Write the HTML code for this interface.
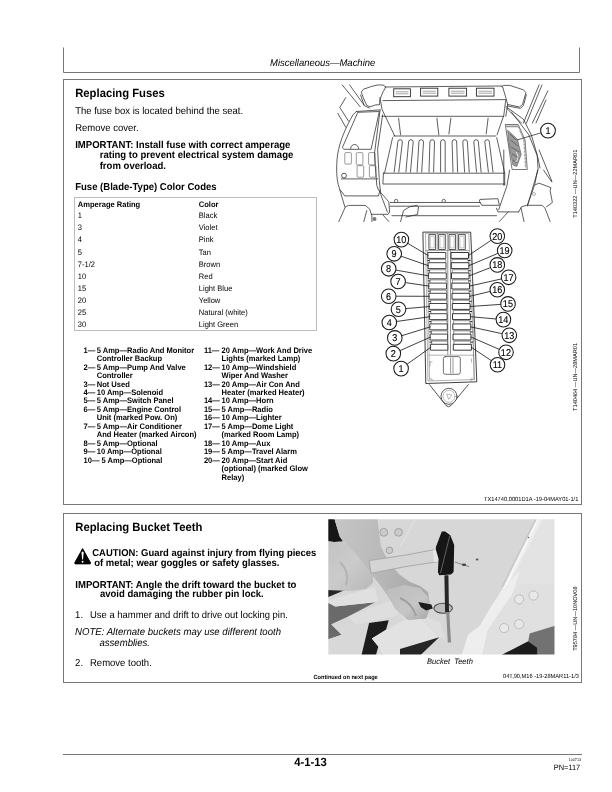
<!DOCTYPE html>
<html><head><meta charset="utf-8"><title>Miscellaneous—Machine 4-1-13</title>
<style>
html,body{margin:0;padding:0;background:#fff;width:612px;height:792px;overflow:hidden}
svg{display:block}
text{font-family:"Liberation Sans",sans-serif;fill:#000;white-space:pre;text-rendering:geometricPrecision}
.b{font-weight:bold}
.i{font-style:italic}
</style></head><body>
<svg width="612" height="792" viewBox="0 0 612 792" style="will-change:transform">
<path d="M63.5 47.5V72.5H579.5V47.5" fill="none" stroke="#777" stroke-width="1"/>
<text x="270" y="65.9" font-size="9.979" class="i" transform="matrix(0.95 0 0 1 13.500 0)">Miscellaneous—Machine</text>
<rect x="63.5" y="79.5" width="518" height="425" fill="none" stroke="#777" stroke-width="1"/>
<rect x="63.5" y="513.5" width="518" height="169" fill="none" stroke="#777" stroke-width="1"/>
<path d="M63 754.5H582" stroke="#777" stroke-width="1"/>
<text x="75.2" y="97" font-size="11.895" class="b" transform="matrix(0.95 0 0 1 3.760 0)">Replacing Fuses</text>
<text x="75.2" y="114.3" font-size="10.000" transform="matrix(0.95 0 0 1 3.760 0)">The fuse box is located behind the seat.</text>
<text x="75.2" y="131" font-size="10.000" transform="matrix(0.95 0 0 1 3.760 0)">Remove cover.</text>
<text x="75.2" y="148.1" font-size="10.053" class="b" transform="matrix(0.95 0 0 1 3.760 0)">IMPORTANT: Install fuse with correct amperage</text>
<text x="99.7" y="158.4" font-size="10.053" class="b" transform="matrix(0.95 0 0 1 4.985 0)">rating to prevent electrical system damage</text>
<text x="99.7" y="168.7" font-size="10.053" class="b" transform="matrix(0.95 0 0 1 4.985 0)">from overload.</text>
<text x="75.2" y="190.3" font-size="10.053" class="b" transform="matrix(0.95 0 0 1 3.760 0)">Fuse (Blade-Type) Color Codes</text>
<rect x="74.5" y="197.5" width="242" height="133" fill="none" stroke="#bcbcbc" stroke-width="1"/>
<text x="77.8" y="206.6" font-size="7.947" class="b" transform="matrix(0.95 0 0 1 3.890 0)">Amperage Rating</text>
<text x="198.8" y="206.6" font-size="7.947" class="b" transform="matrix(0.95 0 0 1 9.940 0)">Color</text>
<text x="77.8" y="218.3" font-size="7.947" transform="matrix(0.95 0 0 1 3.890 0)">1</text>
<text x="198.8" y="218.3" font-size="7.947" transform="matrix(0.95 0 0 1 9.940 0)">Black</text>
<text x="77.8" y="230.39" font-size="7.947" transform="matrix(0.95 0 0 1 3.890 0)">3</text>
<text x="198.8" y="230.39" font-size="7.947" transform="matrix(0.95 0 0 1 9.940 0)">Violet</text>
<text x="77.8" y="242.48" font-size="7.947" transform="matrix(0.95 0 0 1 3.890 0)">4</text>
<text x="198.8" y="242.48" font-size="7.947" transform="matrix(0.95 0 0 1 9.940 0)">Pink</text>
<text x="77.8" y="254.57" font-size="7.947" transform="matrix(0.95 0 0 1 3.890 0)">5</text>
<text x="198.8" y="254.57" font-size="7.947" transform="matrix(0.95 0 0 1 9.940 0)">Tan</text>
<text x="77.8" y="266.66" font-size="7.947" transform="matrix(0.95 0 0 1 3.890 0)">7-1/2</text>
<text x="198.8" y="266.66" font-size="7.947" transform="matrix(0.95 0 0 1 9.940 0)">Brown</text>
<text x="77.8" y="278.75" font-size="7.947" transform="matrix(0.95 0 0 1 3.890 0)">10</text>
<text x="198.8" y="278.75" font-size="7.947" transform="matrix(0.95 0 0 1 9.940 0)">Red</text>
<text x="77.8" y="290.84" font-size="7.947" transform="matrix(0.95 0 0 1 3.890 0)">15</text>
<text x="198.8" y="290.84" font-size="7.947" transform="matrix(0.95 0 0 1 9.940 0)">Light Blue</text>
<text x="77.8" y="302.93" font-size="7.947" transform="matrix(0.95 0 0 1 3.890 0)">20</text>
<text x="198.8" y="302.93" font-size="7.947" transform="matrix(0.95 0 0 1 9.940 0)">Yellow</text>
<text x="77.8" y="315.02" font-size="7.947" transform="matrix(0.95 0 0 1 3.890 0)">25</text>
<text x="198.8" y="315.02" font-size="7.947" transform="matrix(0.95 0 0 1 9.940 0)">Natural (white)</text>
<text x="77.8" y="327.11" font-size="7.947" transform="matrix(0.95 0 0 1 3.890 0)">30</text>
<text x="198.8" y="327.11" font-size="7.947" transform="matrix(0.95 0 0 1 9.940 0)">Light Green</text>
<text x="83.5" y="352.7" font-size="7.947" class="b" transform="matrix(0.95 0 0 1 4.175 0)">1—</text>
<text x="96.7" y="352.7" font-size="7.947" class="b" transform="matrix(0.95 0 0 1 4.835 0)">5 Amp—Radio And Monitor</text>
<text x="96.7" y="361.16" font-size="7.947" class="b" transform="matrix(0.95 0 0 1 4.835 0)">Controller Backup</text>
<text x="83.5" y="369.62" font-size="7.947" class="b" transform="matrix(0.95 0 0 1 4.175 0)">2—</text>
<text x="96.7" y="369.62" font-size="7.947" class="b" transform="matrix(0.95 0 0 1 4.835 0)">5 Amp—Pump And Valve</text>
<text x="96.7" y="378.08" font-size="7.947" class="b" transform="matrix(0.95 0 0 1 4.835 0)">Controller</text>
<text x="83.5" y="386.54" font-size="7.947" class="b" transform="matrix(0.95 0 0 1 4.175 0)">3—</text>
<text x="96.7" y="386.54" font-size="7.947" class="b" transform="matrix(0.95 0 0 1 4.835 0)">Not Used</text>
<text x="83.5" y="395.0" font-size="7.947" class="b" transform="matrix(0.95 0 0 1 4.175 0)">4—</text>
<text x="96.7" y="395.0" font-size="7.947" class="b" transform="matrix(0.95 0 0 1 4.835 0)">10 Amp—Solenoid</text>
<text x="83.5" y="403.46" font-size="7.947" class="b" transform="matrix(0.95 0 0 1 4.175 0)">5—</text>
<text x="96.7" y="403.46" font-size="7.947" class="b" transform="matrix(0.95 0 0 1 4.835 0)">5 Amp—Switch Panel</text>
<text x="83.5" y="411.92" font-size="7.947" class="b" transform="matrix(0.95 0 0 1 4.175 0)">6—</text>
<text x="96.7" y="411.92" font-size="7.947" class="b" transform="matrix(0.95 0 0 1 4.835 0)">5 Amp—Engine Control</text>
<text x="96.7" y="420.38" font-size="7.947" class="b" transform="matrix(0.95 0 0 1 4.835 0)">Unit (marked Pow. On)</text>
<text x="83.5" y="428.84" font-size="7.947" class="b" transform="matrix(0.95 0 0 1 4.175 0)">7—</text>
<text x="96.7" y="428.84" font-size="7.947" class="b" transform="matrix(0.95 0 0 1 4.835 0)">5 Amp—Air Conditioner</text>
<text x="96.7" y="437.3" font-size="7.947" class="b" transform="matrix(0.95 0 0 1 4.835 0)">And Heater (marked Aircon)</text>
<text x="83.5" y="445.76" font-size="7.947" class="b" transform="matrix(0.95 0 0 1 4.175 0)">8—</text>
<text x="96.7" y="445.76" font-size="7.947" class="b" transform="matrix(0.95 0 0 1 4.835 0)">5 Amp—Optional</text>
<text x="83.5" y="454.22" font-size="7.947" class="b" transform="matrix(0.95 0 0 1 4.175 0)">9—</text>
<text x="96.7" y="454.22" font-size="7.947" class="b" transform="matrix(0.95 0 0 1 4.835 0)">10 Amp—Optional</text>
<text x="83.5" y="462.68" font-size="7.947" class="b" transform="matrix(0.95 0 0 1 4.175 0)">10—</text>
<text x="101.5" y="462.68" font-size="7.947" class="b" transform="matrix(0.95 0 0 1 5.075 0)">5 Amp—Optional</text>
<text x="203.9" y="352.7" font-size="7.947" class="b" transform="matrix(0.95 0 0 1 10.195 0)">11—</text>
<text x="221.6" y="352.7" font-size="7.947" class="b" transform="matrix(0.95 0 0 1 11.080 0)">20 Amp—Work And Drive</text>
<text x="221.6" y="361.16" font-size="7.947" class="b" transform="matrix(0.95 0 0 1 11.080 0)">Lights (marked Lamp)</text>
<text x="203.9" y="369.62" font-size="7.947" class="b" transform="matrix(0.95 0 0 1 10.195 0)">12—</text>
<text x="221.6" y="369.62" font-size="7.947" class="b" transform="matrix(0.95 0 0 1 11.080 0)">10 Amp—Windshield</text>
<text x="221.6" y="378.08" font-size="7.947" class="b" transform="matrix(0.95 0 0 1 11.080 0)">Wiper And Washer</text>
<text x="203.9" y="386.54" font-size="7.947" class="b" transform="matrix(0.95 0 0 1 10.195 0)">13—</text>
<text x="221.6" y="386.54" font-size="7.947" class="b" transform="matrix(0.95 0 0 1 11.080 0)">20 Amp—Air Con And</text>
<text x="221.6" y="395.0" font-size="7.947" class="b" transform="matrix(0.95 0 0 1 11.080 0)">Heater (marked Heater)</text>
<text x="203.9" y="403.46" font-size="7.947" class="b" transform="matrix(0.95 0 0 1 10.195 0)">14—</text>
<text x="221.6" y="403.46" font-size="7.947" class="b" transform="matrix(0.95 0 0 1 11.080 0)">10 Amp—Horn</text>
<text x="203.9" y="411.92" font-size="7.947" class="b" transform="matrix(0.95 0 0 1 10.195 0)">15—</text>
<text x="221.6" y="411.92" font-size="7.947" class="b" transform="matrix(0.95 0 0 1 11.080 0)">5 Amp—Radio</text>
<text x="203.9" y="420.38" font-size="7.947" class="b" transform="matrix(0.95 0 0 1 10.195 0)">16—</text>
<text x="221.6" y="420.38" font-size="7.947" class="b" transform="matrix(0.95 0 0 1 11.080 0)">10 Amp—Lighter</text>
<text x="203.9" y="428.84" font-size="7.947" class="b" transform="matrix(0.95 0 0 1 10.195 0)">17—</text>
<text x="221.6" y="428.84" font-size="7.947" class="b" transform="matrix(0.95 0 0 1 11.080 0)">5 Amp—Dome Light</text>
<text x="221.6" y="437.3" font-size="7.947" class="b" transform="matrix(0.95 0 0 1 11.080 0)">(marked Room Lamp)</text>
<text x="203.9" y="445.76" font-size="7.947" class="b" transform="matrix(0.95 0 0 1 10.195 0)">18—</text>
<text x="221.6" y="445.76" font-size="7.947" class="b" transform="matrix(0.95 0 0 1 11.080 0)">10 Amp—Aux</text>
<text x="203.9" y="454.22" font-size="7.947" class="b" transform="matrix(0.95 0 0 1 10.195 0)">19—</text>
<text x="221.6" y="454.22" font-size="7.947" class="b" transform="matrix(0.95 0 0 1 11.080 0)">5 Amp—Travel Alarm</text>
<text x="203.9" y="462.68" font-size="7.947" class="b" transform="matrix(0.95 0 0 1 10.195 0)">20—</text>
<text x="221.6" y="462.68" font-size="7.947" class="b" transform="matrix(0.95 0 0 1 11.080 0)">20 Amp—Start Aid</text>
<text x="221.6" y="471.14" font-size="7.947" class="b" transform="matrix(0.95 0 0 1 11.080 0)">(optional) (marked Glow</text>
<text x="221.6" y="479.6" font-size="7.947" class="b" transform="matrix(0.95 0 0 1 11.080 0)">Relay)</text>
<text x="484" y="500.6" font-size="6.000" transform="matrix(0.95 0 0 1 24.200 0)">TX14740,0001D1A -19-04MAY01-1/1</text>
<text transform="translate(576.5 217.7) rotate(-90)" font-size="5.62">T140322 —UN—22MAR01</text>
<text transform="translate(576.5 410.9) rotate(-90)" font-size="5.62">T140464 —UN—28MAR01</text>
<text x="75.3" y="531.4" font-size="11.895" class="b" transform="matrix(0.95 0 0 1 3.765 0)">Replacing Bucket Teeth</text>
<path d="M82.6 548.6L74.6 563L75.2 563.9H90.1L90.7 563Z" fill="#000" stroke="#000" stroke-width="0.9" stroke-linejoin="round"/>
<path d="M81.5 552.3Q82.6 550.6 83.7 552.3L83.1 559.6H82.1Z" fill="#fff"/><circle cx="82.6" cy="561.7" r="0.95" fill="#fff"/>
<text x="92.3" y="556.4" font-size="9.947" class="b" transform="matrix(0.95 0 0 1 4.615 0)">CAUTION: Guard against injury from flying pieces</text>
<text x="94.2" y="566.2" font-size="10.000" class="b" transform="matrix(0.95 0 0 1 4.710 0)">of metal; wear goggles or safety glasses.</text>
<text x="75.3" y="587.5" font-size="10.053" class="b" transform="matrix(0.95 0 0 1 3.765 0)">IMPORTANT: Angle the drift toward the bucket to</text>
<text x="99.9" y="596.8" font-size="10.053" class="b" transform="matrix(0.95 0 0 1 4.995 0)">avoid damaging the rubber pin lock.</text>
<text x="75.1" y="618.3" font-size="10.000" transform="matrix(0.95 0 0 1 3.755 0)">1.</text>
<text x="90" y="618.3" font-size="9.947" transform="matrix(0.95 0 0 1 4.500 0)">Use a hammer and drift to drive out locking pin.</text>
<text x="75.1" y="634.7" font-size="10.105" class="i" transform="matrix(0.95 0 0 1 3.755 0)">NOTE: Alternate buckets may use different tooth</text>
<text x="99.4" y="645.7" font-size="10.105" class="i" transform="matrix(0.95 0 0 1 4.970 0)">assemblies.</text>
<text x="75.1" y="665.6" font-size="10.000" transform="matrix(0.95 0 0 1 3.755 0)">2.</text>
<text x="90" y="665.6" font-size="10.000" transform="matrix(0.95 0 0 1 4.500 0)">Remove tooth.</text>
<text x="427" y="663.8" font-size="7.947" class="i" transform="matrix(0.95 0 0 1 21.350 0)">Bucket  Teeth</text>
<text x="313.5" y="678.7" font-size="5.958" class="b" transform="matrix(0.95 0 0 1 15.675 0)">Continued on next page</text>
<text x="503" y="678.3" font-size="5.979" transform="matrix(0.95 0 0 1 25.150 0)">04T,90,M16 -19-28MAR11-1/3</text>
<text transform="translate(576.5 650.8) rotate(-90)" font-size="5.6">T95784 —UN—10NOV08</text>
<text x="294.2" y="765.8" font-size="11.895" class="b" transform="matrix(0.95 0 0 1 14.710 0)">4-1-13</text>
<text x="553.8" y="769.8" font-size="7.811" transform="matrix(0.95 0 0 1 27.690 0)">PN=117</text>
<text x="568.8" y="760.7" font-size="3.842" transform="matrix(0.95 0 0 1 28.440 0)">100713</text>
<g>
<path d="M342.2 84.9L360.2 106.8M349.6 84.9L364 105" fill="none" stroke="#2a2a2a" stroke-width="0.75" stroke-linejoin="round" stroke-linecap="round" stroke="#555"/>
<path d="M345.7 97.6L339.8 107.5L348.6 121.2M337.8 113.3L345.7 127.1" fill="none" stroke="#2a2a2a" stroke-width="0.75" stroke-linejoin="round" stroke-linecap="round" stroke="#555"/>
<path d="M539.1 84.9L523.4 123.1M542 84.9L526.4 123.1M547.9 90.8L532.3 123.1" fill="none" stroke="#2a2a2a" stroke-width="0.75" stroke-linejoin="round" stroke-linecap="round" stroke="#555"/>
<path d="M546 100L536 123" fill="none" stroke="#2a2a2a" stroke-width="0.75" stroke-linejoin="round" stroke-linecap="round" stroke-width="1.4" stroke="#999"/>
<path d="M539.1 150L551.9 181.4" fill="none" stroke="#2a2a2a" stroke-width="0.75" stroke-linejoin="round" stroke-linecap="round" stroke="#555"/>
<path d="M361.5 91.8L363.5 89.2L371.3 86.5L377.9 84.9L383.8 85.2L385.7 87.2L383.1 91.8L379.8 99.6L379.5 104.8L375.9 104.8L370 106.8L366.8 105.5L363.5 98.3Z" fill="none" stroke="#2a2a2a" stroke-width="0.75" stroke-linejoin="round" stroke-linecap="round" stroke-width="0.9"/>
<path d="M360.6 95L364.2 105.5L369.4 108.1" fill="none" stroke="#2a2a2a" stroke-width="0.75" stroke-linejoin="round" stroke-linecap="round" stroke="#888"/>
<path d="M501.9 86.4L503.8 85.4L509.7 85.4L523.4 89.8L525.9 92.7L522.5 104.5L519.5 107L507.7 104.5L505.8 97.6L502.8 87.4Z" fill="none" stroke="#2a2a2a" stroke-width="0.75" stroke-linejoin="round" stroke-linecap="round" stroke-width="0.9"/>
<path d="M526.4 94.7L523.4 105.5L520.5 108.4L507.7 106" fill="none" stroke="#2a2a2a" stroke-width="0.75" stroke-linejoin="round" stroke-linecap="round" stroke="#888"/>
<path d="M507.7 104.5L505.8 116.3M506.8 108.4L521.5 123.1" fill="none" stroke="#2a2a2a" stroke-width="0.75" stroke-linejoin="round" stroke-linecap="round" stroke="#444"/>
<path d="M384.9 87L501.9 86" fill="none" stroke="#2a2a2a" stroke-width="0.75" stroke-linejoin="round" stroke-linecap="round"/>
<path d="M382.9 100.6L504.8 99.6" fill="none" stroke="#2a2a2a" stroke-width="0.75" stroke-linejoin="round" stroke-linecap="round" stroke="#777"/>
<path d="M380 97.6L382 109.4L394.7 135.9" fill="none" stroke="#2a2a2a" stroke-width="0.75" stroke-linejoin="round" stroke-linecap="round"/>
<path d="M505.8 99.6L503.8 115.3L497 134.9" fill="none" stroke="#2a2a2a" stroke-width="0.75" stroke-linejoin="round" stroke-linecap="round"/>
<path d="M382 116.3L503.8 116.3" fill="none" stroke="#2a2a2a" stroke-width="0.75" stroke-linejoin="round" stroke-linecap="round"/>
<path d="M398.6 118.2L400.6 134.9M436.9 118.2L438.8 134.9M450.9 118.2L448.9 133.9M488.1 118.2L486.2 133.9" fill="none" stroke="#2a2a2a" stroke-width="0.75" stroke-linejoin="round" stroke-linecap="round" stroke="#555"/>
<rect x="393.7" y="88.8" width="16.7" height="7.9" fill="#fff" stroke="#2a2a2a" stroke-width="0.9"/>
<path d="M395.7 91.8H408.4M395.7 93.8H408.4" stroke="#666" stroke-width="0.6" fill="none"/>
<rect x="420.6" y="88.2" width="17.2" height="7.9" fill="#fff" stroke="#2a2a2a" stroke-width="0.9"/>
<path d="M422.6 91.2H435.8M422.6 93.2H435.8" stroke="#666" stroke-width="0.6" fill="none"/>
<rect x="448.9" y="88.2" width="17.7" height="7.9" fill="#fff" stroke="#2a2a2a" stroke-width="0.9"/>
<path d="M450.9 91.2H464.6M450.9 93.2H464.6" stroke="#666" stroke-width="0.6" fill="none"/>
<rect x="476.4" y="88.2" width="17.6" height="7.9" fill="#fff" stroke="#2a2a2a" stroke-width="0.9"/>
<path d="M478.4 91.2H492M478.4 93.2H492" stroke="#666" stroke-width="0.6" fill="none"/>
<path d="M393.7 136H495.5" fill="none" stroke="#2a2a2a" stroke-width="0.75" stroke-linejoin="round" stroke-linecap="round" stroke-width="1.1"/>
<path d="M392.6 137.6L384.6 173M496.7 137.6L504.7 173" fill="none" stroke="#2a2a2a" stroke-width="0.75" stroke-linejoin="round" stroke-linecap="round"/>
<path d="M383.4 173.2H504.7" fill="none" stroke="#2a2a2a" stroke-width="0.75" stroke-linejoin="round" stroke-linecap="round" stroke-width="2.0" stroke="#222"/>
<path d="M383.4 184H504.7" fill="none" stroke="#2a2a2a" stroke-width="0.75" stroke-linejoin="round" stroke-linecap="round" stroke="#888"/>
<path d="M383.4 173L382.9 183.8M504.7 174L504.7 185" fill="none" stroke="#2a2a2a" stroke-width="0.75" stroke-linejoin="round" stroke-linecap="round" stroke="#777"/>
<path d="M394.2 172L397.8 142A2.3 2.3 0 0 1 402.4 142L398.8 172" fill="none" stroke="#2a2a2a" stroke-width="0.75" stroke-linejoin="round" stroke-linecap="round"/>
<path d="M405.9 172L408.6 142A2.3 2.3 0 0 1 413.2 142L410.5 172" fill="none" stroke="#2a2a2a" stroke-width="0.75" stroke-linejoin="round" stroke-linecap="round"/>
<path d="M417.1 172L418.9 142A2.3 2.3 0 0 1 423.5 142L421.7 172" fill="none" stroke="#2a2a2a" stroke-width="0.75" stroke-linejoin="round" stroke-linecap="round"/>
<path d="M429.0 172L429.9 142A2.3 2.3 0 0 1 434.5 142L433.6 172" fill="none" stroke="#2a2a2a" stroke-width="0.75" stroke-linejoin="round" stroke-linecap="round"/>
<path d="M440.6 172L440.6 142A2.3 2.3 0 0 1 445.2 142L445.2 172" fill="none" stroke="#2a2a2a" stroke-width="0.75" stroke-linejoin="round" stroke-linecap="round"/>
<path d="M453.0 172L452.1 142A2.3 2.3 0 0 1 456.7 142L457.6 172" fill="none" stroke="#2a2a2a" stroke-width="0.75" stroke-linejoin="round" stroke-linecap="round"/>
<path d="M464.6 172L462.8 142A2.3 2.3 0 0 1 467.4 142L469.2 172" fill="none" stroke="#2a2a2a" stroke-width="0.75" stroke-linejoin="round" stroke-linecap="round"/>
<path d="M476.5 172L473.8 142A2.3 2.3 0 0 1 478.4 142L481.1 172" fill="none" stroke="#2a2a2a" stroke-width="0.75" stroke-linejoin="round" stroke-linecap="round"/>
<path d="M488.4 172L484.8 142A2.3 2.3 0 0 1 489.4 142L493.0 172" fill="none" stroke="#2a2a2a" stroke-width="0.75" stroke-linejoin="round" stroke-linecap="round"/>
<path d="M356.3 111.5L380.1 109.9M356.3 111.5L353 114.8C346 127 340 140 337.5 155C336 168 336.5 180 339 187.1L344.8 206.8" fill="none" stroke="#2a2a2a" stroke-width="0.75" stroke-linejoin="round" stroke-linecap="round"/>
<path d="M357.9 112.3L379.3 111.5L371.1 149.3L344 149.3L342.3 147.7L357.1 114Z" fill="none" stroke="#2a2a2a" stroke-width="0.75" stroke-linejoin="round" stroke-linecap="round"/>
<path d="M350.6 148.5A4 4 0 0 1 358.6 148.5" fill="none" stroke="#2a2a2a" stroke-width="0.75" stroke-linejoin="round" stroke-linecap="round" stroke-width="1"/>
<rect x="344.8" y="152.6" width="6.6" height="11.5" rx="1" fill="none" stroke="#555" stroke-width="0.6"/>
<rect x="356.3" y="152.6" width="6.6" height="12.3" rx="1" fill="none" stroke="#555" stroke-width="0.6"/>
<rect x="357.1" y="165.7" width="6.6" height="11.5" rx="1" fill="none" stroke="#555" stroke-width="0.6"/>
<rect x="368.6" y="152.6" width="6.6" height="12.3" rx="1" fill="none" stroke="#555" stroke-width="0.6"/>
<rect x="369.4" y="165.7" width="6.6" height="11.5" rx="1" fill="none" stroke="#555" stroke-width="0.6"/>
<circle cx="344" cy="175.6" r="2.4" fill="none" stroke="#2a2a2a" stroke-width="0.8"/>
<path d="M340.3 190L344.7 195.9L378.5 195.9L380 190M341.5 178.9H377.6" fill="none" stroke="#2a2a2a" stroke-width="0.75" stroke-linejoin="round" stroke-linecap="round" stroke="#555"/>
<path d="M380.1 109.9L374.4 154.2L376.8 185.4L378.5 190L388.8 201.8L389.6 212L388.1 214.3L371.2 214.3" fill="none" stroke="#2a2a2a" stroke-width="0.75" stroke-linejoin="round" stroke-linecap="round"/>
<path d="M382.6 114.8L377.6 149.3L379.3 180.5L380.7 194.4L387.4 212" fill="none" stroke="#2a2a2a" stroke-width="0.75" stroke-linejoin="round" stroke-linecap="round" stroke="#666"/>
<path d="M338.8 221.6L345.4 206.9L348.4 205.4L365.3 205.4L369.7 209.1L371.9 215.7L371.9 221.6M366.8 210.6L363.8 221.6" fill="none" stroke="#2a2a2a" stroke-width="0.75" stroke-linejoin="round" stroke-linecap="round" stroke="#333"/>
<circle cx="374.5" cy="219" r="2" fill="#777" stroke="none"/>
<path d="M383 215L388.8 221.6" fill="none" stroke="#2a2a2a" stroke-width="0.75" stroke-linejoin="round" stroke-linecap="round" stroke="#555"/>
<path d="M390.3 202.5H480.3" fill="none" stroke="#2a2a2a" stroke-width="0.75" stroke-linejoin="round" stroke-linecap="round" stroke-width="1.2"/>
<path d="M390 206.2H479.6M392 215.7H496.5" fill="none" stroke="#2a2a2a" stroke-width="0.75" stroke-linejoin="round" stroke-linecap="round" stroke="#666"/>
<circle cx="396.2" cy="201" r="1.7" fill="#fff" stroke="#333" stroke-width="0.7"/><circle cx="443.7" cy="201" r="1.7" fill="#fff" stroke="#333" stroke-width="0.7"/>
<path d="M400.6 221.6L403.5 210.6L409.4 206.9L416.8 205.4L418.5 207L417.5 214.5L406 217" fill="none" stroke="#2a2a2a" stroke-width="0.75" stroke-linejoin="round" stroke-linecap="round"/>
<path d="M480.3 199.4L497.9 198.7L499.4 205.3L481.8 205.3L479.6 201.6Z" fill="none" stroke="#2a2a2a" stroke-width="0.75" stroke-linejoin="round" stroke-linecap="round"/>
<path d="M496.5 208.2L497.9 211.9L518.5 211.9M499.4 221.5L508.2 211.9" fill="none" stroke="#2a2a2a" stroke-width="0.75" stroke-linejoin="round" stroke-linecap="round"/>
<path d="M505.8 106.5L523.4 119.2L531.3 134.9L537.2 154.9L538.1 169.6L527.4 205.9" fill="none" stroke="#2a2a2a" stroke-width="0.75" stroke-linejoin="round" stroke-linecap="round"/>
<path d="M505.3 124.5L518.2 124.5L525 140L527.3 169.5L512.1 169.5Z" fill="#fff" stroke="#555" stroke-width="0.8"/>
<path d="M505.8 126.4H518.6" stroke="#999" stroke-width="1.8" fill="none"/>
<path d="M518.6 127L524 140L525.8 168" stroke="#888" stroke-width="1.6" fill="none" stroke-dasharray="0.8 0.6"/>
<path d="M507.6 130.2L517.4 139.2L521.2 154.4L516.7 166.5L512.9 165L509.1 145.3Z" fill="#9a9a9a" stroke="#555" stroke-width="0.6"/>
<path d="M510 134L516 140M510.5 140L518 146M511 147L519.5 152M512 154L519 158M513 160L517 163" stroke="#444" stroke-width="0.6" fill="none"/>
<path d="M516 152Q520 157 516 162" stroke="#fff" stroke-width="0.8" fill="none"/>
<path d="M511.4 112L528.8 134.7L537.9 157.4L540 168" fill="none" stroke="#2a2a2a" stroke-width="0.75" stroke-linejoin="round" stroke-linecap="round" stroke="#333"/>
<path d="M503.8 150V185.3M509.7 170L506.8 186.2L498.7 209.7" fill="none" stroke="#2a2a2a" stroke-width="0.75" stroke-linejoin="round" stroke-linecap="round"/>
<path d="M518.5 211.9L521.5 206.8L526.6 205.3L542.1 205.3L545 208.2L550.1 221.5M521 208L524 221.5" fill="none" stroke="#2a2a2a" stroke-width="0.75" stroke-linejoin="round" stroke-linecap="round"/>
<path d="M537.6 170L534.7 184.7L527.4 205.3" fill="none" stroke="#2a2a2a" stroke-width="0.75" stroke-linejoin="round" stroke-linecap="round"/>
<path d="M535.4 184.7L539.1 183.2L550.9 187.6L550.1 190.6L552.4 202.4L546.5 206.8" fill="none" stroke="#2a2a2a" stroke-width="0.75" stroke-linejoin="round" stroke-linecap="round" stroke="#555"/>
<path d="M543.5 170L551.6 181.8" fill="none" stroke="#2a2a2a" stroke-width="0.75" stroke-linejoin="round" stroke-linecap="round" stroke="#555"/>
<circle cx="534" cy="194" r="1.5" fill="none" stroke="#666" stroke-width="0.5"/>
<circle cx="548" cy="130.6" r="7.4" fill="#fff" stroke="#1a1a1a" stroke-width="1.05"/>
<text x="548" y="133.9" font-size="9.9" text-anchor="middle" stroke="#000" stroke-width="0.12" transform="matrix(0.92 0 0 1 43.84 0)">1</text>
<path d="M540.8 132.9L517.5 139.8" fill="none" stroke="#2a2a2a" stroke-width="0.75" stroke-linejoin="round" stroke-linecap="round" stroke-width="0.9" stroke="#222"/>
</g>
<g stroke-linecap="round" stroke-linejoin="round">
<path d="M423.3 232.1L470.7 232.2L476.8 381.8L426.2 383.5Z" fill="#fff" stroke="#2a2a2a" stroke-width="0.9"/>
<path d="M425.9 233.6L468.8 233.6L474.5 379.5L428.3 381Z" fill="none" stroke="#666" stroke-width="0.5"/>
<rect x="429.3" y="234.6" width="6.3" height="14.9" fill="none" stroke="#2a2a2a" stroke-width="0.8"/>
<rect x="430.7" y="236.3" width="3.5" height="11.6" fill="none" stroke="#777" stroke-width="0.4"/>
<rect x="439.0" y="234.6" width="6.3" height="14.9" fill="none" stroke="#2a2a2a" stroke-width="0.8"/>
<rect x="440.4" y="236.3" width="3.5" height="11.6" fill="none" stroke="#777" stroke-width="0.4"/>
<rect x="449.3" y="234.6" width="6.3" height="14.9" fill="none" stroke="#2a2a2a" stroke-width="0.8"/>
<rect x="450.7" y="236.3" width="3.5" height="11.6" fill="none" stroke="#777" stroke-width="0.4"/>
<rect x="459.0" y="234.6" width="6.3" height="14.9" fill="none" stroke="#2a2a2a" stroke-width="0.8"/>
<rect x="460.4" y="236.3" width="3.5" height="11.6" fill="none" stroke="#777" stroke-width="0.4"/>
<path d="M437.3 233.6V250M447.3 233.6V250M457.3 233.6V250M425.9 250.5H468.8" fill="none" stroke="#555" stroke-width="0.5"/>
<path d="M447.8 251V354.5M450.5 251V354.5" fill="none" stroke="#444" stroke-width="0.6"/>
<path d="M427.5 251L429.5 380M472 251L474 380M429 355.2H474" fill="none" stroke="#666" stroke-width="0.5"/>
<rect x="428.2" y="252.5" width="17.6" height="5.9" fill="#fff" stroke="#262626" stroke-width="0.85"/>
<rect x="451.4" y="252.5" width="17.1" height="5.9" fill="#fff" stroke="#1f1f1f" stroke-width="0.9"/>
<path d="M429.4 262.3V259.5H445.8V261.7M451.9 262.3V259.5H468.0V261.7" fill="none" stroke="#444" stroke-width="0.6"/>
<path d="M427.7 260.5h1.5M468.5 260.5h1.5" stroke="#222" stroke-width="1"/>
<rect x="428.5" y="262.7" width="17.5" height="5.9" fill="#fff" stroke="#262626" stroke-width="0.85"/>
<rect x="451.7" y="262.7" width="17.2" height="5.9" fill="#fff" stroke="#1f1f1f" stroke-width="0.9"/>
<path d="M429.7 272.5V269.7H446.0V271.9M452.2 272.5V269.7H468.3V271.9" fill="none" stroke="#444" stroke-width="0.6"/>
<path d="M428.0 270.7h1.5M468.8 270.7h1.5" stroke="#222" stroke-width="1"/>
<rect x="428.8" y="272.9" width="17.5" height="5.9" fill="#fff" stroke="#262626" stroke-width="0.85"/>
<rect x="451.9" y="272.9" width="17.2" height="5.9" fill="#fff" stroke="#1f1f1f" stroke-width="0.9"/>
<path d="M430.0 282.7V279.9H446.2V282.1M452.4 282.7V279.9H468.6V282.1" fill="none" stroke="#444" stroke-width="0.6"/>
<path d="M428.3 280.9h1.5M469.1 280.9h1.5" stroke="#222" stroke-width="1"/>
<rect x="429.1" y="283.1" width="17.4" height="5.9" fill="#fff" stroke="#262626" stroke-width="0.85"/>
<rect x="452.2" y="283.1" width="17.3" height="5.9" fill="#fff" stroke="#1f1f1f" stroke-width="0.9"/>
<path d="M430.3 292.9V290.1H446.5V292.3M452.7 292.9V290.1H469.0V292.3" fill="none" stroke="#444" stroke-width="0.6"/>
<path d="M428.6 291.1h1.5M469.5 291.1h1.5" stroke="#222" stroke-width="1"/>
<rect x="429.4" y="293.3" width="17.3" height="5.9" fill="#fff" stroke="#262626" stroke-width="0.85"/>
<rect x="452.4" y="293.3" width="17.4" height="5.9" fill="#fff" stroke="#1f1f1f" stroke-width="0.9"/>
<path d="M430.6 303.1V300.3H446.7V302.5M452.9 303.1V300.3H469.3V302.5" fill="none" stroke="#444" stroke-width="0.6"/>
<path d="M428.9 301.3h1.5M469.8 301.3h1.5" stroke="#222" stroke-width="1"/>
<rect x="429.6" y="303.5" width="17.3" height="5.9" fill="#fff" stroke="#262626" stroke-width="0.85"/>
<rect x="452.7" y="303.5" width="17.4" height="5.9" fill="#fff" stroke="#1f1f1f" stroke-width="0.9"/>
<path d="M430.8 313.3V310.5H446.9V312.7M453.2 313.3V310.5H469.6V312.7" fill="none" stroke="#444" stroke-width="0.6"/>
<path d="M429.1 311.5h1.5M470.1 311.5h1.5" stroke="#222" stroke-width="1"/>
<rect x="429.9" y="313.7" width="17.2" height="5.9" fill="#fff" stroke="#262626" stroke-width="0.85"/>
<rect x="452.9" y="313.7" width="17.5" height="5.9" fill="#fff" stroke="#1f1f1f" stroke-width="0.9"/>
<path d="M431.1 323.5V320.7H447.1V322.9M453.4 323.5V320.7H469.9V322.9" fill="none" stroke="#444" stroke-width="0.6"/>
<path d="M429.4 321.7h1.5M470.4 321.7h1.5" stroke="#222" stroke-width="1"/>
<rect x="430.2" y="323.9" width="17.1" height="5.9" fill="#fff" stroke="#262626" stroke-width="0.85"/>
<rect x="453.2" y="323.9" width="17.6" height="5.9" fill="#fff" stroke="#1f1f1f" stroke-width="0.9"/>
<path d="M431.4 333.7V330.9H447.4V333.1M453.7 333.7V330.9H470.3V333.1" fill="none" stroke="#444" stroke-width="0.6"/>
<path d="M429.7 331.9h1.5M470.8 331.9h1.5" stroke="#222" stroke-width="1"/>
<rect x="430.5" y="334.1" width="17.1" height="5.9" fill="#fff" stroke="#262626" stroke-width="0.85"/>
<rect x="453.4" y="334.1" width="17.6" height="5.9" fill="#fff" stroke="#1f1f1f" stroke-width="0.9"/>
<path d="M431.7 343.9V341.1H447.6V343.3M453.9 343.9V341.1H470.6V343.3" fill="none" stroke="#444" stroke-width="0.6"/>
<path d="M430.0 342.1h1.5M471.1 342.1h1.5" stroke="#222" stroke-width="1"/>
<rect x="430.8" y="344.3" width="17.0" height="5.9" fill="#fff" stroke="#262626" stroke-width="0.85"/>
<rect x="453.7" y="344.3" width="17.7" height="5.9" fill="#fff" stroke="#1f1f1f" stroke-width="0.9"/>
<rect x="443.4" y="356.6" width="16.9" height="17.7" rx="2" fill="none" stroke="#333" stroke-width="0.7"/>
<path d="M450.6 358V373M453 358V373" fill="none" stroke="#555" stroke-width="0.6"/>
<path d="M430 362V366M430 362H432M431 378V380H433M472 378V380H470M471.5 359V362" fill="none" stroke="#666" stroke-width="0.5"/>
<path d="M429.4 384.6L446 405.5Q448.5 408 451 405.5L468.4 384.6" fill="none" stroke="#2a2a2a" stroke-width="0.8"/>
<circle cx="449" cy="396.3" r="8" fill="#fff" stroke="#333" stroke-width="0.8"/><circle cx="449" cy="396.3" r="6" fill="none" stroke="#777" stroke-width="0.5"/>
<path d="M447 394L452 395L449 399Z" fill="none" stroke="#777" stroke-width="0.5"/>
<path d="M407.7 243.3L428.2 255.5M401.1 256.2L428.5 265.7M395.9 270.1L428.8 275.9M405.3 282.6L429.1 286.1M396.0 296.2L429.4 296.3M405.8 308.6L429.6 306.5M396.5 321.5L429.9 316.7M401.8 335.7L430.2 326.9M400.0 350.6L430.5 337.1M407.0 364.3L430.8 347.3M491.2 240.2L468.5 255.5M498.0 253.3L468.8 265.7M490.5 267.6L469.1 275.9M501.5 278.9L469.5 286.1M490.2 291.4L469.8 296.3M500.7 304.4L470.1 306.5M496.1 319.0L470.4 316.7M502.2 333.7L470.8 326.9M499.3 349.4L471.1 337.1M491.4 360.7L471.4 347.3" fill="none" stroke="#1f1f1f" stroke-width="0.85"/>
<circle cx="401.4" cy="239.6" r="7.3" fill="#fff" stroke="#1a1a1a" stroke-width="1.05"/>
<text x="401.3" y="243.0" font-size="9.9" text-anchor="middle" stroke="#000" stroke-width="0.12" transform="matrix(0.92 0 0 1 32.10 0)">10</text>
<circle cx="394.2" cy="253.8" r="7.3" fill="#fff" stroke="#1a1a1a" stroke-width="1.05"/>
<text x="394.1" y="257.2" font-size="9.9" text-anchor="middle" stroke="#000" stroke-width="0.12" transform="matrix(0.92 0 0 1 31.53 0)">9</text>
<circle cx="388.7" cy="268.8" r="7.3" fill="#fff" stroke="#1a1a1a" stroke-width="1.05"/>
<text x="388.6" y="272.2" font-size="9.9" text-anchor="middle" stroke="#000" stroke-width="0.12" transform="matrix(0.92 0 0 1 31.09 0)">8</text>
<circle cx="398.1" cy="281.5" r="7.3" fill="#fff" stroke="#1a1a1a" stroke-width="1.05"/>
<text x="398.0" y="284.9" font-size="9.9" text-anchor="middle" stroke="#000" stroke-width="0.12" transform="matrix(0.92 0 0 1 31.84 0)">7</text>
<circle cx="388.7" cy="296.2" r="7.3" fill="#fff" stroke="#1a1a1a" stroke-width="1.05"/>
<text x="388.6" y="299.6" font-size="9.9" text-anchor="middle" stroke="#000" stroke-width="0.12" transform="matrix(0.92 0 0 1 31.09 0)">6</text>
<circle cx="398.5" cy="309.2" r="7.3" fill="#fff" stroke="#1a1a1a" stroke-width="1.05"/>
<text x="398.4" y="312.6" font-size="9.9" text-anchor="middle" stroke="#000" stroke-width="0.12" transform="matrix(0.92 0 0 1 31.87 0)">5</text>
<circle cx="389.3" cy="322.5" r="7.3" fill="#fff" stroke="#1a1a1a" stroke-width="1.05"/>
<text x="389.2" y="325.9" font-size="9.9" text-anchor="middle" stroke="#000" stroke-width="0.12" transform="matrix(0.92 0 0 1 31.14 0)">4</text>
<circle cx="394.8" cy="337.9" r="7.3" fill="#fff" stroke="#1a1a1a" stroke-width="1.05"/>
<text x="394.7" y="341.3" font-size="9.9" text-anchor="middle" stroke="#000" stroke-width="0.12" transform="matrix(0.92 0 0 1 31.58 0)">3</text>
<circle cx="393.3" cy="353.6" r="7.3" fill="#fff" stroke="#1a1a1a" stroke-width="1.05"/>
<text x="393.2" y="357.0" font-size="9.9" text-anchor="middle" stroke="#000" stroke-width="0.12" transform="matrix(0.92 0 0 1 31.46 0)">2</text>
<circle cx="401.1" cy="368.6" r="7.3" fill="#fff" stroke="#1a1a1a" stroke-width="1.05"/>
<text x="401.0" y="372.0" font-size="9.9" text-anchor="middle" stroke="#000" stroke-width="0.12" transform="matrix(0.92 0 0 1 32.08 0)">1</text>
<circle cx="497.3" cy="236.1" r="7.3" fill="#fff" stroke="#1a1a1a" stroke-width="1.05"/>
<text x="497.2" y="239.5" font-size="9.9" text-anchor="middle" stroke="#000" stroke-width="0.12" transform="matrix(0.92 0 0 1 39.78 0)">20</text>
<circle cx="504.7" cy="250.5" r="7.3" fill="#fff" stroke="#1a1a1a" stroke-width="1.05"/>
<text x="504.6" y="253.9" font-size="9.9" text-anchor="middle" stroke="#000" stroke-width="0.12" transform="matrix(0.92 0 0 1 40.37 0)">19</text>
<circle cx="497.3" cy="264.9" r="7.3" fill="#fff" stroke="#1a1a1a" stroke-width="1.05"/>
<text x="497.2" y="268.3" font-size="9.9" text-anchor="middle" stroke="#000" stroke-width="0.12" transform="matrix(0.92 0 0 1 39.78 0)">18</text>
<circle cx="508.6" cy="277.3" r="7.3" fill="#fff" stroke="#1a1a1a" stroke-width="1.05"/>
<text x="508.5" y="280.7" font-size="9.9" text-anchor="middle" stroke="#000" stroke-width="0.12" transform="matrix(0.92 0 0 1 40.68 0)">17</text>
<circle cx="497.3" cy="289.7" r="7.3" fill="#fff" stroke="#1a1a1a" stroke-width="1.05"/>
<text x="497.2" y="293.1" font-size="9.9" text-anchor="middle" stroke="#000" stroke-width="0.12" transform="matrix(0.92 0 0 1 39.78 0)">16</text>
<circle cx="508" cy="303.9" r="7.3" fill="#fff" stroke="#1a1a1a" stroke-width="1.05"/>
<text x="507.9" y="307.3" font-size="9.9" text-anchor="middle" stroke="#000" stroke-width="0.12" transform="matrix(0.92 0 0 1 40.63 0)">15</text>
<circle cx="503.4" cy="319.6" r="7.3" fill="#fff" stroke="#1a1a1a" stroke-width="1.05"/>
<text x="503.3" y="323.0" font-size="9.9" text-anchor="middle" stroke="#000" stroke-width="0.12" transform="matrix(0.92 0 0 1 40.26 0)">14</text>
<circle cx="509.3" cy="335.3" r="7.3" fill="#fff" stroke="#1a1a1a" stroke-width="1.05"/>
<text x="509.2" y="338.7" font-size="9.9" text-anchor="middle" stroke="#000" stroke-width="0.12" transform="matrix(0.92 0 0 1 40.74 0)">13</text>
<circle cx="506" cy="352.3" r="7.3" fill="#fff" stroke="#1a1a1a" stroke-width="1.05"/>
<text x="505.9" y="355.7" font-size="9.9" text-anchor="middle" stroke="#000" stroke-width="0.12" transform="matrix(0.92 0 0 1 40.47 0)">12</text>
<circle cx="497.5" cy="364.7" r="7.3" fill="#fff" stroke="#1a1a1a" stroke-width="1.05"/>
<text x="497.4" y="368.1" font-size="9.9" text-anchor="middle" stroke="#000" stroke-width="0.12" transform="matrix(0.92 0 0 1 39.79 0)">11</text>
</g>
<defs><clipPath id="pc"><rect x="328.3" y="519.2" width="226.2" height="135.3"/></clipPath><filter id="bl" x="-5%" y="-5%" width="110%" height="110%"><feGaussianBlur stdDeviation="0.55"/></filter><linearGradient id="arm" x1="0" y1="0" x2="1" y2="0.2"><stop offset="0" stop-color="#c6c6c6"/><stop offset="0.5" stop-color="#bababa"/><stop offset="1" stop-color="#a8a8a8"/></linearGradient><linearGradient id="fist" x1="0" y1="0" x2="1" y2="1"><stop offset="0" stop-color="#c2c2c2"/><stop offset="0.5" stop-color="#cbcbcb"/><stop offset="1" stop-color="#b8b8b8"/></linearGradient><linearGradient id="hand" x1="0" y1="0" x2="1" y2="1"><stop offset="0" stop-color="#bcbcbc"/><stop offset="0.6" stop-color="#c6c6c6"/><stop offset="1" stop-color="#a6a6a6"/></linearGradient></defs>
<g clip-path="url(#pc)"><g filter="url(#bl)">
<rect x="326.3" y="517.2" width="230.2" height="139.3" fill="#d7d7d7"/>
<path d="M540.0 517.0L556.0 517.0L556.0 600.0L520.0 598.0L504.8 587.0Z" fill="#e3e3e3"/>
<path d="M416.2 517L400.5 546.4" stroke="#e0e0e0" stroke-width="1.2" fill="none"/>
<path d="M539.0 517.0L544.0 517.0L508.0 586.0L498.0 600.0L492.0 605.0L504.8 587.0Z" fill="#ececec"/>
<path d="M539 517L504.8 587L490 612" fill="none" stroke="#f6f6f6" stroke-width="2.2"/>
<path d="M537 517L502 587" fill="none" stroke="#c4c4c4" stroke-width="1.2"/>
<path d="M326.0 517.0L334.0 517.0L339.7 536.6L343.0 541.5L334.0 542.0L326.0 541.0Z" fill="#161616"/>
<circle cx="383.8" cy="532.3" r="3.9" fill="#cbcbcb" stroke="#a2a2a2" stroke-width="1"/>
<circle cx="398.5" cy="532.3" r="3.9" fill="#cbcbcb" stroke="#a2a2a2" stroke-width="1"/>
<circle cx="389.4" cy="550.3" r="3.3" fill="#cbcbcb" stroke="#a2a2a2" stroke-width="1"/>
<path d="M326.0 586.0L345.0 590.0L326.0 598.1Z" fill="#262626"/>
<path d="M326.0 602.0L335.2 606.6L375.7 602.0L348.2 616.4L331.2 624.2L341.7 634.7L326.0 639.9Z" fill="#6a6a6a"/>
<path d="M326.0 600.7L375.0 587.0L378.0 602.0L335.2 606.6Z" fill="#e0e0e0"/>
<path d="M348.2 616.4L394.0 599.4L399.2 615.1L356.1 624.9Z" fill="#dedede"/>
<path d="M331.2 624.2L356.1 624.9L369.1 622.9L361.3 656.0L326.0 656.0L326.0 639.9L341.7 634.7Z" fill="#d8d8d8"/>
<path d="M369.1 622.9L388.7 620.3L386.1 629.4L371.8 638.6L378.3 646.4L375.7 656.0L361.3 656.0Z" fill="#1a1a1a"/>
<path d="M371.8 638.6L406.0 619.0L420.0 618.0L439.2 637.3L419.6 656.0L383.5 656.0L378.3 646.4Z" fill="#e2e2e2"/>
<path d="M399.2 615.1L410.5 616.4L424.8 616.4L440.0 622.0L446.0 640.0L439.2 637.3L420.0 618.0L406.0 619.0Z" fill="#dedede"/>
<path d="M400.0 649.0L439.2 637.3L419.6 656.0L400.0 656.0Z" fill="#262626"/>
<path d="M333.8 517.0L377.0 517.0L380.9 546.4L385.0 555.0L392.0 566.0L400.0 575.0L410.0 582.0L420.0 586.0L428.0 592.0L430.0 605.0L426.0 618.0L408.0 620.0L395.0 608.0L388.0 596.0L380.0 585.0L372.0 575.0L365.0 566.0L355.0 553.0L347.6 546.4L339.7 536.6Z" fill="url(#arm)"/>
<path d="M386.0 590.0L404.4 585.1L420.0 588.0L428.0 596.9L431.0 606.0L426.0 618.4L408.4 620.0L395.0 609.0Z" fill="url(#hand)"/>
<path d="M400 598Q412 603 416 616" stroke="#a0a0a0" stroke-width="2" fill="none"/>
<path d="M326.0 541.0L334.0 542.0L343.0 541.5L347.6 546.4L355.0 553.0L365.0 566.0L373.0 575.0L373.0 583.0L366.0 589.0L350.0 591.0L326.0 590.0Z" fill="url(#fist)"/>
<path d="M340 562Q350 572 346 585" stroke="#b4b4b4" stroke-width="2" fill="none"/>
<path d="M369.1 560.6L406.0 555.0L438.7 548.8L438.7 561.6L406.0 566.5L371.0 573.3Z" fill="#d4d4d4" stroke="#a4a4a4" stroke-width="0.9"/>
<path d="M433.0 549.8L438.0 548.9L439.0 561.4L434.0 562.0Z" fill="#e6e6e6"/>
<path d="M418.3 602.0L431.4 604.6L432.7 608.5L426.1 610.5L420.9 607.2Z" fill="#1a1a1a"/>
<ellipse cx="443.1" cy="608.3" rx="9.3" ry="5" fill="#bdbdbd" stroke="#4a4a4a" stroke-width="1.1"/>
<path d="M444.4 575.2L448.4 575.2L449.0 612.0L445.1 612.0Z" fill="#262626"/>
<path d="M446.2 612.0L449.3 612.0L451.0 642.5L447.8 642.5Z" fill="#8a8a8a"/>
<path d="M435.9 547.1L441.8 531.4L445.1 531.4L450.3 535.3L454.2 545.1L453.6 571.9L451.0 574.5L439.2 575.2L437.9 571.9L438.6 558.8L435.9 549.7Z" fill="#151515"/>
<path d="M449.7 536L440.5 573.2" stroke="#6a6a6a" stroke-width="0.9" fill="none"/>
<path d="M454.9 562.1L469.3 566.7" stroke="#555" stroke-width="0.6" fill="none"/><ellipse cx="464" cy="564.8" rx="2.2" ry="1.3" fill="#444"/><ellipse cx="477.1" cy="559.5" rx="1.4" ry="0.9" fill="#555"/><ellipse cx="528.5" cy="537.5" rx="0.8" ry="0.8" fill="#666"/>
<path d="M461.4 656.0L468.0 634.7L480.0 625.5L492.0 605.0L504.8 587.0L520.0 570.0L512.0 595.0L500.0 612.0L488.0 630.0L482.0 656.0Z" fill="#eeeeee"/>
<path d="M482.0 656.0L488.0 630.0L500.0 612.0L512.0 595.0L520.0 585.0L556.0 583.0L556.0 625.0L529.6 633.4L528.3 641.2L499.5 656.0Z" fill="#e0e0e0"/>
<circle cx="519.1" cy="599.4" r="4.6" fill="#e8e8e8" stroke="#bdbdbd" stroke-width="1"/>
<circle cx="533.5" cy="595.5" r="4.6" fill="#e8e8e8" stroke="#bdbdbd" stroke-width="1"/>
<circle cx="504.1" cy="628.1" r="4.6" fill="#e8e8e8" stroke="#bdbdbd" stroke-width="1"/>
<circle cx="519.1" cy="624.2" r="4.6" fill="#e8e8e8" stroke="#bdbdbd" stroke-width="1"/>
<path d="M529.6 633.4L556.0 625.5L556.0 656.0L537.4 656.0L537.4 647.7L528.3 641.2Z" fill="#727272"/>
<path d="M499.5 656.0L528.3 641.2L537.4 647.7L537.4 656.0Z" fill="#1e1e1e"/>
</g></g>
</svg>
</body></html>
